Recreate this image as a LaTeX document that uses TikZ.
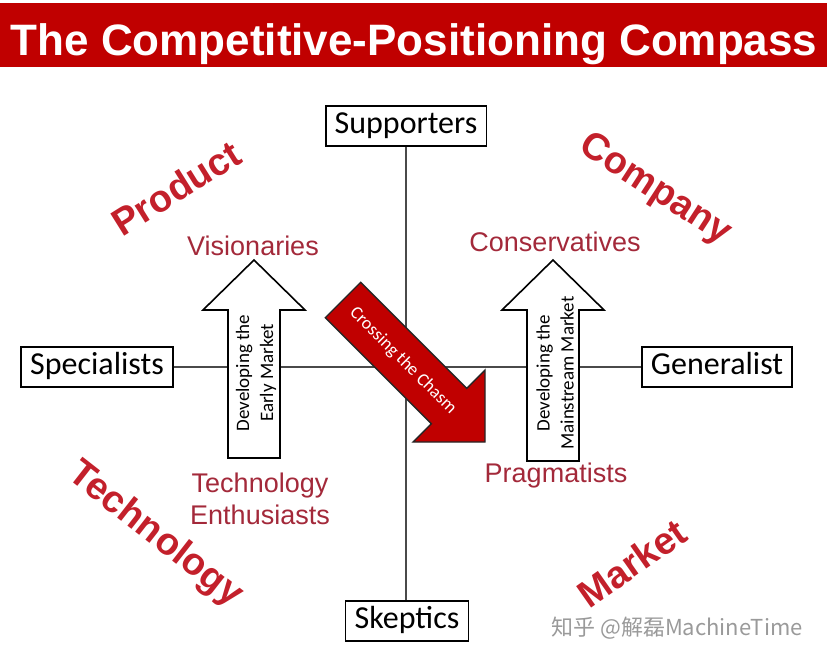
\documentclass[tikz,border=0pt]{standalone}
\usepackage{fontspec}
\setmainfont{Liberation Sans}
\newfontfamily\calibri{Carlito}
\newfontfamily\cjkfont{Noto Sans CJK SC}
\usepackage{tikz}
\usetikzlibrary{calc}
\definecolor{cpBar}{HTML}{C00000}
\definecolor{cpLabel}{HTML}{A3293A}
\definecolor{cpCorner}{HTML}{C3202B}
\definecolor{cpAxis}{HTML}{4A4A4A}
\definecolor{cpMark}{HTML}{9A9A9A}

\begin{document}
\begin{tikzpicture}[x=1pt, y=-1pt,
    posbox/.style={draw, line width=1.6pt, font=\calibri\fontsize{32}{32}\selectfont,
        inner xsep=9pt, inner ysep=0pt, text height=22pt, text depth=7pt, minimum height=40pt},
    group/.style={text=cpLabel, font=\fontsize{27}{32}\selectfont, align=center},
    corner/.style={text=cpCorner, font=\bfseries\fontsize{38}{38}\selectfont},
    upshaft/.style={draw, line width=1.6pt, fill=white, line join=miter},
    armtext/.style={rotate=90, align=center, font=\calibri\fontsize{19}{24}\selectfont}]
    \useasboundingbox (0,0) rectangle (827,661);
    \fill[cpBar] (0,3) rectangle (827,67);
    \node[text=white, font=\bfseries\fontsize{44}{44}\selectfont, anchor=base] (title) at (414,56) {The Competitive-Positioning Compass};
    \node[posbox] (sup) at (406,126) {Supporters};
    \node[posbox] (skep) at (407,621) {Skeptics};
    \node[posbox] (spec) at (97,367) {Specialists};
    \node[posbox] (gen) at (717,367) {Generalist};
    \draw[cpAxis, line width=1.2pt] (sup.south) -- (sup.south |- skep.north);
    \draw[cpAxis, line width=1.2pt] (spec.east) -- (gen.west);
    \foreach \x/\y in {254/458, 553/461}
        \draw[upshaft] ({\x-26},\y) -- ({\x-26},310) -- ({\x-51},310) -- (\x,260)
            -- ({\x+51},310) -- ({\x+26},310) -- ({\x+26},\y) -- cycle;
    \node[armtext] (early) at (256,373) {Developing the\\Early Market};
    \node[armtext] (mainstream) at (555,373) {Developing the\\Mainstream Market};
    \draw[fill=cpBar, draw=black!85, line width=1.4pt, line join=miter]
        (325.3,317.7) -- (360.7,282.3) -- (466.7,388.3) -- (485,370) -- (485,442)
        -- (413,442) -- (431.3,423.7) -- cycle;
    \node[text=white, rotate=-45, font=\calibri\fontsize{18}{18}\selectfont] (chasm) at (403,361) {Crossing the Chasm};
    \node[group] (vis) at (253,246) {Visionaries};
    \node[group] (cons) at (555,242) {Conservatives};
    \node[group] (prag) at (556,476) {Pragmatists};
    \node[group] (tech) at (260,499) {Technology\\Enthusiasts};
    \node[corner, rotate=32] (product) at (176,188) {Product};
    \node[corner, rotate=-33] (company) at (655,190) {Company};
    \node[corner, rotate=-38] (technology) at (155,535) {Technology};
    \node[corner, rotate=35] (market) at (632,563) {Market};
    \node[text=cpMark, font=\cjkfont\fontsize{22}{22}\selectfont] (mark) at (677,628) {知乎 @解磊MachineTime};
\end{tikzpicture}
\end{document}
